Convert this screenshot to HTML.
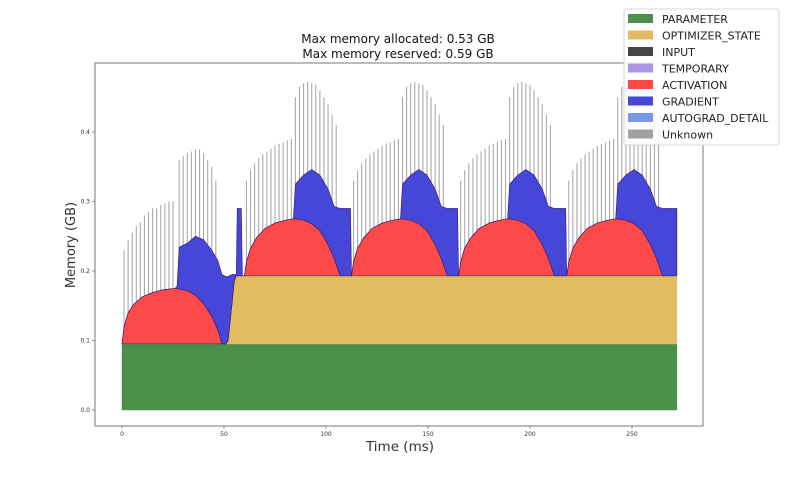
<!DOCTYPE html>
<html><head><meta charset="utf-8"><style>
body{margin:0;background:#fff;width:800px;height:483px;overflow:hidden;font-family:"Liberation Sans","DejaVu Sans",sans-serif}
svg text{font-family:"DejaVu Sans","Liberation Sans",sans-serif}
</style></head><body>
<svg id="c" width="800" height="483" viewBox="0 0 800 483"></svg>
<script>
// keypoint times (ms) and layer thicknesses (GB)
const times=[0,1,3,6,10,15,20,26,27,28,32,36,40,44,47,49,51,52,54,55,56,56.5,58.5,59,
60,61,63,66,70,75,80,84,85,89,93,97,101,104,106,107,112,
112.5,113.5,115.5,118.5,122.5,127.5,132.5,136.5,137.5,141.5,145.5,149.5,153.5,156.5,158.5,159.5,164.5,
165,166,168,171,175,180,185,189,190,194,198,202,206,209,211,212,217.5,
218,219,221,224,228,233,238,242,243,247,251,255,259,262,264,265,272];
const parameter=times.map(()=>0.095);
const optimizer=[0,0,0,0,0,0,0,0,0,0,0,0,0,0,0,0,0,0.005,0.06,0.09,0.098,0.098,0.098,0.098,
0.098,0.098,0.098,0.098,0.098,0.098,0.098,0.098,0.098,0.098,0.098,0.098,0.098,0.098,0.098,0.098,0.098,
0.098,0.098,0.098,0.098,0.098,0.098,0.098,0.098,0.098,0.098,0.098,0.098,0.098,0.098,0.098,0.098,0.098,
0.098,0.098,0.098,0.098,0.098,0.098,0.098,0.098,0.098,0.098,0.098,0.098,0.098,0.098,0.098,0.098,0.098,
0.098,0.098,0.098,0.098,0.098,0.098,0.098,0.098,0.098,0.098,0.098,0.098,0.098,0.098,0.098,0.098,0.098];
const activation=[0,0.025,0.045,0.058,0.068,0.074,0.078,0.08,0.08,0.079,0.077,0.07,0.058,0.04,0.02,0,0,0,0,0,0,0,0,0,
0,0.02,0.04,0.055,0.068,0.076,0.08,0.082,0.082,0.08,0.075,0.065,0.045,0.025,0.008,0,0,
0,0.02,0.04,0.055,0.068,0.076,0.08,0.082,0.082,0.08,0.075,0.065,0.045,0.025,0.008,0,0,
0,0.02,0.04,0.055,0.068,0.076,0.08,0.082,0.082,0.08,0.075,0.065,0.045,0.025,0.008,0,0,
0,0.02,0.04,0.055,0.068,0.076,0.08,0.082,0.082,0.08,0.075,0.065,0.045,0.025,0.008,0,0];
const gradient=[0,0,0,0,0,0,0,0,0.003,0.06,0.068,0.085,0.092,0.095,0.1,0.1,0.097,0.092,0.04,0.01,0.002,0.097,0.097,0,
0,0,0,0,0,0,0,0,0.05,0.065,0.078,0.08,0.08,0.075,0.09,0.097,0.097,
0,0,0,0,0,0,0,0,0.05,0.065,0.078,0.08,0.08,0.075,0.09,0.097,0.097,
0,0,0,0,0,0,0,0,0.05,0.065,0.078,0.08,0.08,0.075,0.09,0.097,0.097,
0,0,0,0,0,0,0,0,0.05,0.065,0.078,0.08,0.08,0.075,0.09,0.097,0.097];
const spikeTimes=[1,3,5,7,9,11,13,15,17,19,21,23,25,28,30,32,34,36,38,40,42,44,46,
61,63,65,67,69,71,73,75,77,79,81,83,85,87,89,91,93,95,97,99,101,103,105,
113.5,115.5,117.5,119.5,121.5,123.5,125.5,127.5,129.5,131.5,133.5,135.5,137.5,139.5,141.5,143.5,145.5,147.5,149.5,151.5,153.5,155.5,157.5,
166,168,170,172,174,176,178,180,182,184,186,188,190,192,194,196,198,200,202,204,206,208,210,
219,221,223,225,227,229,231,233,235,237,239,241,243,245,247,249,251,253,255,257,259,261,263];
const spikeTops=[0.23,0.245,0.255,0.265,0.27,0.28,0.285,0.29,0.29,0.295,0.297,0.3,0.3,0.36,0.365,0.37,0.372,0.375,0.375,0.37,0.36,0.35,0.33,
0.33,0.345,0.355,0.362,0.368,0.372,0.376,0.38,0.383,0.385,0.388,0.39,0.45,0.465,0.47,0.472,0.47,0.468,0.46,0.45,0.44,0.425,0.41,
0.33,0.345,0.355,0.362,0.368,0.372,0.376,0.38,0.383,0.385,0.388,0.39,0.45,0.465,0.47,0.472,0.47,0.468,0.46,0.45,0.44,0.425,0.41,
0.33,0.345,0.355,0.362,0.368,0.372,0.376,0.38,0.383,0.385,0.388,0.39,0.45,0.465,0.47,0.472,0.47,0.468,0.46,0.45,0.44,0.425,0.41,
0.33,0.345,0.355,0.362,0.368,0.372,0.376,0.38,0.383,0.385,0.388,0.39,0.45,0.465,0.47,0.472,0.47,0.468,0.46,0.45,0.44,0.425,0.41];
const xTicks=[0,50,100,150,200,250];
const yTicks=[0.0,0.1,0.2,0.3,0.4];
const legendLabels=["PARAMETER","OPTIMIZER_STATE","INPUT","TEMPORARY","ACTIVATION","GRADIENT","AUTOGRAD_DETAIL","Unknown"];
const legendColors=["#4a8f4a","#e3bc5f","#444444","#ad95e6","#fc4747","#4646d6","#7a98e6","#a0a0a0"];

const NS="http://www.w3.org/2000/svg";
const svg=document.getElementById('c');
const X=t=>122+t*2.04;
const Y=v=>410-v*695;
function mk(tag,attrs,parent){const e=document.createElementNS(NS,tag);for(const k in attrs)e.setAttribute(k,attrs[k]);(parent||svg).appendChild(e);return e;}

// frame
const frame=mk('rect',{x:95,y:63,width:608,height:363,fill:'none',stroke:'#555','stroke-width':0.8});



// cumulative
const layers=[parameter,optimizer,activation,gradient];
const cols=["#4a8f4a","#e3bc5f","#fc4a4a","#4646d8"];
const names=["parameter-area","optimizer-state-area","activation-area","gradient-area"];
let cum=[times.map(()=>0)];
layers.forEach((L,i)=>{cum.push(cum[i].map((v,j)=>v+L[j]));});
function stackTop(t){const top=cum[4];for(let j=0;j<times.length-1;j++){if(t>=times[j]&&t<=times[j+1]){const f=(t-times[j])/((times[j+1]-times[j])||1);return top[j]+f*(top[j+1]-top[j]);}}return top[top.length-1];}

// spikes (unknown)
const sg=mk('g',{});


spikeTimes.forEach((t,i)=>{
  const l=mk('line',{x1:X(t),x2:X(t),y1:Y(stackTop(t)),y2:Y(spikeTops[i]),stroke:'#8c8c8c','stroke-width':1.1,'stroke-opacity':0.75},sg);
  
  
});

layers.forEach((L,i)=>{
  let pts=[];
  for(let j=0;j<times.length;j++)pts.push(X(times[j])+','+Y(cum[i+1][j]));
  for(let j=times.length-1;j>=0;j--)pts.push(X(times[j])+','+Y(cum[i][j]));
  const p=mk('polygon',{points:pts.join(' '),fill:cols[i],stroke:(i>=2?'#3a1a6a':cols[i]),'stroke-width':(i>=2?0.6:0.5)});
  
  
});

// ticks
xTicks.forEach(v=>{
  mk('line',{x1:X(v),x2:X(v),y1:426,y2:429,stroke:'#555','stroke-width':0.6});
  const t=mk('text',{x:X(v),y:436,'font-size':6,'text-anchor':'middle',fill:'#333'});t.textContent=v;
  
  
});
yTicks.forEach(v=>{
  mk('line',{x1:92,x2:95,y1:Y(v),y2:Y(v),stroke:'#555','stroke-width':0.6});
  const t=mk('text',{x:90,y:Y(v)+2,'font-size':6,'text-anchor':'end',fill:'#333'});t.textContent=v.toFixed(1);
  
  
});

const yt=mk('text',{x:0,y:0,'font-size':13,'text-anchor':'middle',fill:'#333',transform:'translate(75,245) rotate(-90)'});
yt.textContent='Memory (GB)';


const xt=mk('text',{x:400,y:451,'font-size':13.5,'text-anchor':'middle',fill:'#333'});
xt.textContent='Time (ms)';


const t1=mk('text',{x:398,y:43,'font-size':12,'text-anchor':'middle',fill:'#111'});
t1.textContent='Max memory allocated: 0.53 GB';


const t2=mk('text',{x:398,y:58,'font-size':12,'text-anchor':'middle',fill:'#111'});
t2.textContent='Max memory reserved: 0.59 GB';



// legend
const lg=mk('g',{});


mk('rect',{x:624,y:9,width:155,height:136,fill:'#fff','fill-opacity':0.9,stroke:'#ccc','stroke-width':0.8,rx:2},lg);
legendLabels.forEach((lab,i)=>{
  const g=mk('g',{},lg);
  
  
  const y=19+i*16.5;
  mk('rect',{x:628,y:y-5,width:25,height:9,fill:legendColors[i]},g);
  const t=mk('text',{x:662,y:y+4,'font-size':11,fill:'#222'},g);t.textContent=lab;
});
</script>
</body></html>
